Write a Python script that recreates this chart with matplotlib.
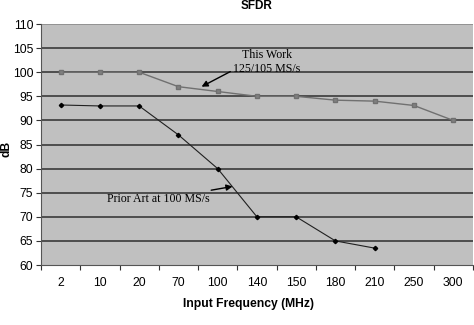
import matplotlib.pyplot as plt
import numpy as np

# Data
categories = ["2", "10", "20", "70", "100", "140", "150", "180", "210", "250", "300"]
this_work = [100, 100, 100, 97, 96, 95, 95, 94.2, 94, 93.1, 90]
prior_art = [93.2, 93, 93, 87, 80, 70, 70, 65, 63.5]
y_ticks = [60, 65, 70, 75, 80, 85, 90, 95, 100, 105, 110]

plt.rcParams["font.family"] = ["Liberation Sans", "DejaVu Sans"]

fig = plt.figure(figsize=(4.74, 3.25), dpi=100)
ax = fig.add_axes([0.0865, 0.1846, 0.911, 0.7415])
ax.set_facecolor("#c0c0c0")

x = np.arange(len(categories))
ax.plot(x, this_work, color="#707070", linewidth=1.0, marker="s", markersize=2.5,
        markerfacecolor="#808080", markeredgecolor="#707070", zorder=3)
ax.plot(x[:len(prior_art)], prior_art, color="#202020", linewidth=0.8, marker="D",
        markersize=2.2, markerfacecolor="black", markeredgecolor="black", zorder=3)

ax.set_xlim(-0.5, len(categories) - 0.5)
ax.set_ylim(60, 110)
ax.set_yticks(y_ticks)
ax.set_xticks(x)
ax.set_xticklabels(categories, fontsize=8.8)
ax.set_xticks(np.arange(-0.5, len(categories)), minor=True)
ax.tick_params(axis="x", which="major", length=0, pad=8.5)
ax.tick_params(axis="x", which="minor", length=3.5, width=0.8, color="#333333")
ax.tick_params(axis="y", length=3.5, width=0.8, labelsize=8.8, pad=2, color="#333333")

for yv in y_ticks[1:-1]:
    ax.axhline(yv, color="#3a3a3a", linewidth=1.2, zorder=1)
ax.axhline(110, color="#8a8a8a", linewidth=1.2, zorder=1)

for side in ["top", "right"]:
    ax.spines[side].set_visible(False)
ax.spines["left"].set_color("#555555")
ax.spines["bottom"].set_color("#555555")

fig.text(0.5 + 0.0865 / 2 - 0.003, 1 - 6 / 325, "SFDR", fontsize=8.5,
         fontweight="bold", ha="center", va="center")
ax.set_xlabel("Input Frequency (MHz)", fontsize=8.7, fontweight="bold")
ax.xaxis.set_label_coords((249 - 41) / 432, -(298 - 265) / 241)
ax.set_ylabel("dB", fontsize=8.7, fontweight="bold")
ax.yaxis.set_label_coords(-(41 - 12) / 432, 0.48)

ax.annotate("This Work\n125/105 MS/s", xy=(3.59, 97.0), xytext=(5.25, 99.5),
            fontsize=8.6, family="Liberation Serif", ha="center", va="bottom",
            linespacing=1.15,
            arrowprops=dict(arrowstyle="-|>", color="black", lw=1.0,
                            shrinkA=0, shrinkB=0, mutation_scale=9,
                            relpos=(-0.02, 0.15)))
ax.annotate("Prior Art at 100 MS/s", xy=(4.38, 76.3), xytext=(3.8, 73.6),
            fontsize=8.6, family="Liberation Serif", ha="right", va="center",
            arrowprops=dict(arrowstyle="-|>", color="black", lw=1.0,
                            shrinkA=2, shrinkB=0, mutation_scale=9))

fig.savefig("out.png", dpi=100)
